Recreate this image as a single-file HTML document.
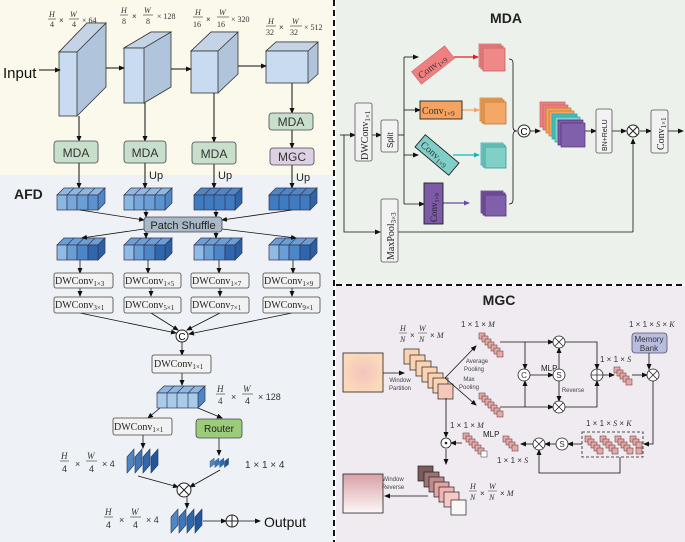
<!DOCTYPE html>
<html><head><meta charset="utf-8"><style>
html,body{margin:0;padding:0;background:#fff}
svg{display:block}
text{font-family:"Liberation Sans",sans-serif}
.s{font-family:"Liberation Serif",serif}
.i{font-family:"Liberation Serif",serif;font-style:italic}
</style></head><body>
<svg width="685" height="542" viewBox="0 0 685 542" xmlns="http://www.w3.org/2000/svg">
<defs>
<marker id="a" markerWidth="6" markerHeight="6" refX="5" refY="3" orient="auto" markerUnits="userSpaceOnUse"><path d="M0,0.5 L6,3 L0,5.5z" fill="#111"/></marker>
<marker id="ar" markerWidth="6" markerHeight="6" refX="5" refY="3" orient="auto" markerUnits="userSpaceOnUse"><path d="M0,0.5 L6,3 L0,5.5z" fill="#e02020"/></marker>
<marker id="ao" markerWidth="6" markerHeight="6" refX="5" refY="3" orient="auto" markerUnits="userSpaceOnUse"><path d="M0,0.5 L6,3 L0,5.5z" fill="#f4a460"/></marker>
<marker id="at" markerWidth="6" markerHeight="6" refX="5" refY="3" orient="auto" markerUnits="userSpaceOnUse"><path d="M0,0.5 L6,3 L0,5.5z" fill="#10b8b8"/></marker>
<marker id="ap" markerWidth="6" markerHeight="6" refX="5" refY="3" orient="auto" markerUnits="userSpaceOnUse"><path d="M0,0.5 L6,3 L0,5.5z" fill="#6a4aa8"/></marker>
<g id="stkA">
<path d="M0,7 L7,0 L48,0 L41,7z" fill="#8fb8e0" stroke="#335" stroke-width="0.7"/>
<path d="M41,7 L48,0 L48,15 L41,22z" fill="#4f86c4" stroke="#335" stroke-width="0.7"/>
<rect x="0" y="7" width="10" height="15" fill="#8ab6e2" stroke="#335" stroke-width="0.7"/>
<rect x="10" y="7" width="10" height="15" fill="#76a7da" stroke="#335" stroke-width="0.7"/>
<rect x="20" y="7" width="11" height="15" fill="#6a9fd6" stroke="#335" stroke-width="0.7"/>
<rect x="31" y="7" width="10" height="15" fill="#5b93cf" stroke="#335" stroke-width="0.7"/>
<path d="M10,7 L17,0 M20,7 L27,0 M31,7 L38,0" stroke="#335" stroke-width="0.7"/>
</g>
<g id="stkB">
<path d="M0,7 L7,0 L48,0 L41,7z" fill="#4f86c4" stroke="#335" stroke-width="0.7"/>
<path d="M41,7 L48,0 L48,15 L41,22z" fill="#2f65a8" stroke="#335" stroke-width="0.7"/>
<rect x="0" y="7" width="41" height="15" fill="#3f7bc0" stroke="#335" stroke-width="0.7"/>
<path d="M10,7 L10,22 M20,7 L20,22 M31,7 L31,22 M10,7 L17,0 M20,7 L27,0 M31,7 L38,0" stroke="#335" stroke-width="0.7"/>
</g>
<g id="stkC">
<path d="M0,7 L7,0 L48,0 L41,7z" fill="#6a9fd6" stroke="#335" stroke-width="0.7"/>
<path d="M41,7 L48,0 L48,15 L41,22z" fill="#2b5f9f" stroke="#335" stroke-width="0.7"/>
<rect x="0" y="7" width="10" height="15" fill="#8fbbe4" stroke="#335" stroke-width="0.7"/>
<rect x="10" y="7" width="10" height="15" fill="#6a9fd6" stroke="#335" stroke-width="0.7"/>
<rect x="20" y="7" width="11" height="15" fill="#4b86c8" stroke="#335" stroke-width="0.7"/>
<rect x="31" y="7" width="10" height="15" fill="#2f67ae" stroke="#335" stroke-width="0.7"/>
<path d="M10,7 L17,0 M20,7 L27,0 M31,7 L38,0" stroke="#335" stroke-width="0.7"/>
</g>
<g id="par">
<path d="M0,24 L0,8 L7,0 L7,16z" fill="#4f86c4" stroke="#235" stroke-width="0.6"/>
<path d="M8,24 L8,8 L15,0 L15,16z" fill="#3d77bb" stroke="#235" stroke-width="0.6"/>
<path d="M16,24 L16,8 L23,0 L23,16z" fill="#2f68ad" stroke="#235" stroke-width="0.6"/>
<path d="M24,24 L24,8 L31,0 L31,16z" fill="#1f58a0" stroke="#235" stroke-width="0.6"/>
</g>
<g id="pk"><rect width="6" height="6" fill="#e8a8a8" stroke="#533" stroke-width="0.5"/></g>
</defs>

<!-- backgrounds -->
<rect x="0" y="0" width="334" height="175" fill="#fbf8ec"/>
<rect x="0" y="175" width="334" height="367" fill="#eef2f6"/>
<rect x="336" y="0" width="349" height="284" fill="#edf1ec"/>
<rect x="336" y="286" width="349" height="256" fill="#efebf1"/>
<line x1="334" y1="0" x2="334" y2="542" stroke="#111" stroke-width="2" stroke-dasharray="6,4"/>
<line x1="336" y1="285" x2="685" y2="285" stroke="#111" stroke-width="2" stroke-dasharray="6,4"/>

<!-- encoder -->
<g stroke="#333" stroke-width="0.8">
<path d="M59,52 L87,23 L106,23 L106,87 L77,116z" fill="#b0c4dc"/><path d="M59,52 L87,23 L106,23 L77,52z" fill="#c4d4e6"/><rect x="59" y="52" width="18" height="64" fill="#c9dbf0"/>
<path d="M124,48 L151,32 L171,32 L171,87 L144,103z" fill="#b0c4dc"/><path d="M124,48 L151,32 L171,32 L144,48z" fill="#c4d4e6"/><rect x="124" y="48" width="20" height="55" fill="#c9dbf0"/>
<path d="M191,51 L211,32 L238,32 L238,74 L218,93z" fill="#b0c4dc"/><path d="M191,51 L211,32 L238,32 L218,51z" fill="#c4d4e6"/><rect x="191" y="51" width="27" height="42" fill="#c9dbf0"/>
<path d="M266,51 L276,42 L318,42 L318,74 L308,83z" fill="#b0c4dc"/><path d="M266,51 L276,42 L318,42 L308,51z" fill="#c4d4e6"/><rect x="266" y="51" width="42" height="32" fill="#c9dbf0"/>
</g>
<text x="3" y="78" font-size="15" fill="#111">Input</text>
<g stroke="#111" stroke-width="1" fill="none" marker-end="url(#a)">
<line x1="39" y1="70" x2="60" y2="70"/><line x1="106" y1="68" x2="124" y2="68"/><line x1="171" y1="69" x2="191" y2="69"/><line x1="238" y1="66" x2="266" y2="66"/>
<line x1="79" y1="116" x2="79" y2="141"/><line x1="145" y1="103" x2="145" y2="141"/><line x1="214" y1="93" x2="214" y2="142"/><line x1="292" y1="83" x2="292" y2="113"/><line x1="292" y1="130" x2="292" y2="148"/>
<line x1="79" y1="163" x2="79" y2="188"/><line x1="145" y1="163" x2="145" y2="188"/><line x1="214" y1="164" x2="214" y2="188"/><line x1="292" y1="165" x2="292" y2="188"/>
</g>
<g font-size="10" fill="#333">
<text x="49" y="17" class="i" font-size="8">H</text><line x1="48" y1="19" x2="56" y2="19" stroke="#333" stroke-width="0.6"/><text x="50" y="27" class="s" font-size="8">4</text><text x="59" y="23" font-size="8">×</text><text x="70" y="17" class="i" font-size="8">W</text><line x1="69" y1="19" x2="79" y2="19" stroke="#333" stroke-width="0.6"/><text x="72" y="27" class="s" font-size="8">4</text><text x="82" y="23" class="s" font-size="8">× 64</text>
<text x="121" y="13" class="i" font-size="8">H</text><line x1="120" y1="15" x2="128" y2="15" stroke="#333" stroke-width="0.6"/><text x="122" y="24" class="s" font-size="8">8</text><text x="132" y="19" font-size="8">×</text><text x="144" y="13" class="i" font-size="8">W</text><line x1="143" y1="15" x2="153" y2="15" stroke="#333" stroke-width="0.6"/><text x="146" y="24" class="s" font-size="8">8</text><text x="157" y="19" class="s" font-size="8">× 128</text>
<text x="195" y="15" class="i" font-size="8">H</text><line x1="193" y1="17" x2="203" y2="17" stroke="#333" stroke-width="0.6"/><text x="193" y="27" class="s" font-size="8">16</text><text x="206" y="22" font-size="8">×</text><text x="219" y="15" class="i" font-size="8">W</text><line x1="217" y1="17" x2="229" y2="17" stroke="#333" stroke-width="0.6"/><text x="217" y="27" class="s" font-size="8">16</text><text x="231" y="22" class="s" font-size="8">× 320</text>
<text x="268" y="24" class="i" font-size="8">H</text><line x1="266" y1="26" x2="276" y2="26" stroke="#333" stroke-width="0.6"/><text x="266" y="35" class="s" font-size="8">32</text><text x="279" y="30" font-size="8">×</text><text x="292" y="24" class="i" font-size="8">W</text><line x1="290" y1="26" x2="302" y2="26" stroke="#333" stroke-width="0.6"/><text x="290" y="35" class="s" font-size="8">32</text><text x="304" y="30" class="s" font-size="8">× 512</text>
</g>
<g stroke="#445" stroke-width="0.8">
<rect x="54" y="141" width="44" height="22" rx="3" fill="#c8dfcc"/>
<rect x="124" y="141" width="42" height="22" rx="3" fill="#c8dfcc"/>
<rect x="192" y="142" width="44" height="22" rx="3" fill="#c8dfcc"/>
<rect x="269" y="113" width="44" height="17" rx="3" fill="#c8dfcc"/>
<rect x="270" y="148" width="44" height="17" rx="3" fill="#ddd0e2"/>
</g>
<g font-size="12" fill="#333" text-anchor="middle">
<text x="76" y="157">MDA</text><text x="145" y="157">MDA</text><text x="214" y="158">MDA</text><text x="291" y="126">MDA</text><text x="292" y="161">MGC</text>
</g>
<g font-size="11" fill="#222"><text x="149" y="179">Up</text><text x="218" y="179">Up</text><text x="296" y="181">Up</text></g>
<text x="14" y="199" font-size="14" font-weight="bold" fill="#222">AFD</text>

<!-- stacks -->
<use href="#stkA" x="57" y="188"/><use href="#stkA" x="124" y="188"/><use href="#stkB" x="194" y="188"/><use href="#stkB" x="269" y="188"/>
<use href="#stkC" x="57" y="238"/><use href="#stkC" x="124" y="238"/><use href="#stkC" x="194" y="238"/><use href="#stkC" x="269" y="238"/>
<g stroke="#111" stroke-width="0.8" fill="none" marker-end="url(#a)">
<line x1="80" y1="210" x2="144" y2="220"/><line x1="146" y1="210" x2="146" y2="217"/><line x1="216" y1="210" x2="216" y2="217"/><line x1="292" y1="210" x2="222" y2="220"/>
<line x1="144" y1="229" x2="82" y2="238"/><line x1="146" y1="232" x2="146" y2="238"/><line x1="216" y1="232" x2="216" y2="238"/><line x1="222" y1="229" x2="296" y2="238"/>
<line x1="80" y1="260" x2="80" y2="273"/><line x1="148" y1="260" x2="148" y2="273"/><line x1="219" y1="260" x2="219" y2="273"/><line x1="293" y1="260" x2="293" y2="273"/>
<line x1="80" y1="288" x2="80" y2="296"/><line x1="151" y1="288" x2="151" y2="296"/><line x1="220" y1="288" x2="220" y2="296"/><line x1="292" y1="288" x2="292" y2="296"/>
<line x1="80" y1="313" x2="176" y2="333"/><line x1="151" y1="313" x2="178" y2="330"/><line x1="220" y1="313" x2="187" y2="330"/><line x1="292" y1="313" x2="189" y2="334"/>
<line x1="182" y1="342" x2="182" y2="355"/><line x1="182" y1="373" x2="182" y2="385"/>
<line x1="160" y1="408" x2="148" y2="418"/><line x1="198" y1="408" x2="222" y2="418"/>
<line x1="143" y1="435" x2="143" y2="448"/><line x1="219" y1="438" x2="219" y2="455"/>
<line x1="138" y1="476" x2="178" y2="487"/><line x1="220" y1="470" x2="190" y2="487"/>
<line x1="187" y1="496" x2="187" y2="508"/>
<line x1="203" y1="521" x2="226" y2="521"/><line x1="238" y1="521" x2="260" y2="521"/>
</g>
<rect x="144" y="217" width="78" height="15" rx="3" fill="#a9b8c6" stroke="#445" stroke-width="0.8"/>
<text x="183" y="229" font-size="11" fill="#222" text-anchor="middle">Patch Shuffle</text>
<g stroke="#444" stroke-width="0.8" fill="#f2f2f2">
<rect x="54" y="273" width="59" height="15" rx="2"/><rect x="124" y="273" width="57" height="15" rx="2"/><rect x="191" y="273" width="58" height="15" rx="2"/><rect x="263" y="273" width="57" height="15" rx="2"/>
<rect x="54" y="297" width="59" height="16" rx="2"/><rect x="124" y="297" width="57" height="16" rx="2"/><rect x="191" y="297" width="58" height="16" rx="2"/><rect x="263" y="297" width="57" height="16" rx="2"/>
<rect x="152" y="355" width="59" height="18" rx="2"/><rect x="113" y="418" width="59" height="17" rx="2"/>
</g>
<g class="s" font-size="10" fill="#222">
<text x="55" y="284" class="s">DWConv<tspan font-size="7" dy="2">1×3</tspan></text><text x="125" y="284" class="s">DWConv<tspan font-size="7" dy="2">1×5</tspan></text><text x="192" y="284" class="s">DWConv<tspan font-size="7" dy="2">1×7</tspan></text><text x="264" y="284" class="s">DWConv<tspan font-size="7" dy="2">1×9</tspan></text>
<text x="55" y="308" class="s">DWConv<tspan font-size="7" dy="2">3×1</tspan></text><text x="125" y="308" class="s">DWConv<tspan font-size="7" dy="2">5×1</tspan></text><text x="192" y="308" class="s">DWConv<tspan font-size="7" dy="2">7×1</tspan></text><text x="264" y="308" class="s">DWConv<tspan font-size="7" dy="2">9×1</tspan></text>
<text x="154" y="367" class="s">DWConv<tspan font-size="7" dy="2">1×1</tspan></text><text x="114" y="430" class="s">DWConv<tspan font-size="7" dy="2">1×1</tspan></text>
</g>
<circle cx="182" cy="336" r="6" fill="#fff" stroke="#222"/><text x="182" y="340" font-size="10" text-anchor="middle">C</text>
<g transform="translate(157,386)">
<path d="M0,7 L7,0 L48,0 L41,7z" fill="#8fb8e0" stroke="#335" stroke-width="0.7"/>
<path d="M41,7 L48,0 L48,15 L41,22z" fill="#4f86c4" stroke="#335" stroke-width="0.7"/>
<rect x="0" y="7" width="41" height="15" fill="#a8cbea" stroke="#335" stroke-width="0.7"/>
<path d="M10,7 L10,22 M20,7 L20,22 M31,7 L31,22 M10,7 L17,0 M20,7 L27,0 M31,7 L38,0" stroke="#335" stroke-width="0.7"/>
</g>
<g fill="#333" font-size="9" class="s">
<text x="217" y="392" class="i">H</text><line x1="216" y1="394" x2="225" y2="394" stroke="#333" stroke-width="0.6"/><text x="218" y="404" class="s">4</text><text x="231" y="400">×</text><text x="243" y="392" class="i">W</text><line x1="242" y1="394" x2="253" y2="394" stroke="#333" stroke-width="0.6"/><text x="245" y="404">4</text><text x="258" y="400">× 128</text>
<text x="61" y="459" class="i">H</text><line x1="60" y1="461" x2="69" y2="461" stroke="#333" stroke-width="0.6"/><text x="62" y="472">4</text><text x="75" y="467">×</text><text x="87" y="459" class="i">W</text><line x1="86" y1="461" x2="97" y2="461" stroke="#333" stroke-width="0.6"/><text x="89" y="472">4</text><text x="102" y="467">× 4</text>
<text x="245" y="468" font-size="10">1 × 1 × 4</text>
<text x="105" y="515" class="i">H</text><line x1="104" y1="517" x2="113" y2="517" stroke="#333" stroke-width="0.6"/><text x="106" y="528">4</text><text x="119" y="523">×</text><text x="131" y="515" class="i">W</text><line x1="130" y1="517" x2="141" y2="517" stroke="#333" stroke-width="0.6"/><text x="133" y="528">4</text><text x="146" y="523">× 4</text>
</g>
<rect x="196" y="419" width="46" height="19" rx="3" fill="#9ccc7a" stroke="#445" stroke-width="0.8"/>
<text x="219" y="432" font-size="10" fill="#222" text-anchor="middle">Router</text>
<use href="#par" x="127" y="449"/>
<use href="#par" x="171" y="509"/>
<g transform="translate(210,458) scale(0.6,0.4)"><use href="#par"/></g>
<circle cx="184" cy="490" r="7" fill="#fff" stroke="#222"/><path d="M179,485 L189,495 M189,485 L179,495" stroke="#222"/>
<circle cx="232" cy="521" r="6" fill="#fff" stroke="#222"/><path d="M226,521 L238,521 M232,515 L232,527" stroke="#222"/>
<text x="264" y="527" font-size="14" fill="#111">Output</text>

<!-- MDA -->
<text x="506" y="23" font-size="14" font-weight="bold" fill="#222" text-anchor="middle">MDA</text>
<g stroke="#111" stroke-width="0.8" fill="none">
<line x1="340" y1="135" x2="355" y2="135" marker-end="url(#a)"/>
<polyline points="344,135 344,232 380,232" marker-end="url(#a)"/>
<line x1="372" y1="135" x2="381" y2="135" marker-end="url(#a)"/>
<line x1="398" y1="135" x2="404" y2="135"/>
<line x1="404" y1="57" x2="404" y2="204"/>
<line x1="404" y1="57" x2="418" y2="57" marker-end="url(#a)"/>
<line x1="404" y1="110" x2="420" y2="110" marker-end="url(#a)"/>
<line x1="404" y1="155" x2="418" y2="155" marker-end="url(#a)"/>
<line x1="404" y1="204" x2="424" y2="204" marker-end="url(#a)"/>
<line x1="398" y1="232" x2="633" y2="232"/>
<line x1="633" y1="232" x2="633" y2="139" marker-end="url(#a)"/>
<path d="M509,59 Q513,59 513,63 L513,127 Q513,131 517,131 Q513,131 513,135 L513,200 Q513,204 509,204"/>
<line x1="530" y1="131" x2="540" y2="131" marker-end="url(#a)"/>
<line x1="584" y1="131" x2="596" y2="131" marker-end="url(#a)"/>
<line x1="612" y1="131" x2="626" y2="131" marker-end="url(#a)"/>
<line x1="640" y1="131" x2="651" y2="131" marker-end="url(#a)"/>
<line x1="668" y1="131" x2="683" y2="131" marker-end="url(#a)"/>
</g>
<line x1="454" y1="57" x2="478" y2="57" stroke="#e02020" stroke-width="1.2" marker-end="url(#ar)"/>
<line x1="462" y1="110" x2="479" y2="110" stroke="#f4a460" stroke-width="1.2" marker-end="url(#ao)"/>
<line x1="453" y1="155" x2="479" y2="155" stroke="#10b8b8" stroke-width="1.2" marker-end="url(#at)"/>
<line x1="443" y1="203" x2="469" y2="203" stroke="#6a4aa8" stroke-width="1.2" marker-end="url(#ap)"/>
<g stroke="#555" stroke-width="0.8" fill="#f2f2f2">
<rect x="355" y="103" width="17" height="58" rx="2"/><rect x="381" y="120" width="17" height="32" rx="2"/><rect x="381" y="199" width="17" height="63" rx="2"/>
<rect x="596" y="109" width="16" height="44" rx="2"/><rect x="651" y="110" width="17" height="43" rx="2"/>
</g>
<g fill="#222" font-size="10" class="s">
<text transform="translate(368,160) rotate(-90)" class="s">DWConv<tspan font-size="7" dy="2">1×1</tspan></text>
<text transform="translate(393,148) rotate(-90)" font-size="8">Split</text>
<text transform="translate(394,260) rotate(-90)" class="s">MaxPool<tspan font-size="7" dy="2">3×3</tspan></text>
<text transform="translate(607,151) rotate(-90)" font-size="7">BN+ReLU</text>
<text transform="translate(664,150) rotate(-90)" class="s">Conv<tspan font-size="7" dy="2">1×1</tspan></text>
</g>
<g transform="translate(433,65) rotate(-38)"><rect x="-21" y="-8" width="42" height="16" fill="#f08080" stroke="#c66" stroke-width="0.6"/><text x="-18" y="4" class="s" font-size="10" fill="#333">Conv<tspan font-size="7" dy="2">1×9</tspan></text></g>
<rect x="420" y="101" width="42" height="18" fill="#f4a460" stroke="#222" stroke-width="0.9"/><text x="422" y="114" class="s" font-size="10" fill="#333">Conv<tspan font-size="7" dy="2">1×9</tspan></text>
<g transform="translate(437,155) rotate(40)"><rect x="-22" y="-8" width="44" height="16" fill="#7fcfc8" stroke="#222" stroke-width="0.9"/><text x="-19" y="4" class="s" font-size="10" fill="#333">Conv<tspan font-size="7" dy="2">1×9</tspan></text></g>
<rect x="424" y="183" width="19" height="41" fill="#7c5aa6" stroke="#222" stroke-width="0.9"/><text transform="translate(437,222) rotate(-90)" class="s" font-size="9" fill="#222">Conv<tspan font-size="6" dy="2">1×9</tspan></text>
<g stroke-width="0.8">
<rect x="479" y="44" width="22" height="23" fill="#f08080" stroke="#c77"/><rect x="481" y="46" width="22" height="23" fill="#f08080" stroke="#b66"/><rect x="483" y="48" width="22" height="23" fill="#f08888" stroke="#b66"/>
<rect x="480" y="98" width="22" height="23" fill="#f4a460" stroke="#c84"/><rect x="482" y="100" width="22" height="23" fill="#f4a460" stroke="#b73"/><rect x="484" y="102" width="22" height="22" fill="#f4a868" stroke="#b73"/>
<rect x="481" y="143" width="22" height="22" fill="#7fcfc8" stroke="#4aa"/><rect x="483" y="145" width="22" height="22" fill="#7fcfc8" stroke="#399"/><rect x="485" y="147" width="21" height="21" fill="#80d0c8" stroke="#399"/>
<rect x="481" y="191" width="22" height="22" fill="#7c5aa6" stroke="#648"/><rect x="483" y="193" width="22" height="22" fill="#7c5aa6" stroke="#537"/><rect x="485" y="195" width="21" height="21" fill="#8060aa" stroke="#537"/>
</g>
<circle cx="524" cy="131" r="6" fill="#fff" stroke="#222"/><text x="524" y="135" font-size="10" text-anchor="middle">C</text>
<g stroke-width="0.7">
<rect x="540" y="102" width="25" height="25" fill="#f08080" stroke="#b66"/><rect x="543" y="105" width="25" height="25" fill="#f08080" stroke="#b66"/>
<rect x="546" y="108" width="25" height="25" fill="#f4a460" stroke="#b73"/><rect x="549" y="111" width="25" height="25" fill="#f4a460" stroke="#b73"/>
<rect x="552" y="114" width="25" height="25" fill="#40c0c0" stroke="#399"/><rect x="555" y="117" width="25" height="25" fill="#7fcfc8" stroke="#399"/>
<rect x="558" y="120" width="25" height="25" fill="#7c5aa6" stroke="#537"/><rect x="561" y="123" width="24" height="24" fill="#8060aa" stroke="#537"/>
</g>
<circle cx="633" cy="131" r="6" fill="#fff" stroke="#222"/><path d="M629,127 L637,135 M637,127 L629,135" stroke="#222"/>

<!-- MGC -->
<text x="499" y="305" font-size="14" font-weight="bold" fill="#222" text-anchor="middle">MGC</text>
<defs><radialGradient id="g1"><stop offset="0" stop-color="#f2c4c0"/><stop offset="1" stop-color="#fbd9b9"/></radialGradient>
<linearGradient id="g2" x1="0" y1="0" x2="0" y2="1"><stop offset="0" stop-color="#d8a0a4"/><stop offset="1" stop-color="#fdf8f8"/></linearGradient></defs>
<rect x="343" y="353" width="40" height="39" fill="url(#g1)" stroke="#222" stroke-width="0.8"/>
<rect x="343" y="474" width="40" height="39" fill="url(#g2)" stroke="#222" stroke-width="0.8"/>
<g font-size="6" fill="#444" text-anchor="middle">
<text x="400" y="382">Window</text><text x="400" y="390">Partition</text>
<text x="477" y="363">Average</text><text x="474" y="371">Pooling</text>
<text x="469" y="381">Max</text><text x="469" y="389">Pooling</text>
<text x="573" y="392">Reverse</text>
<text x="393" y="481">Window</text><text x="393" y="489">Reverse</text>
</g>
<g stroke="#222" stroke-width="0.7">
<rect x="404" y="349" width="15" height="15" fill="#fbd2b2"/><rect x="410" y="355" width="15" height="15" fill="#fbd2b2"/><rect x="416" y="361" width="15" height="15" fill="#fbd2b2"/><rect x="422" y="367" width="15" height="15" fill="#fbd2b2"/><rect x="428" y="373" width="15" height="15" fill="#fbd2b2"/><rect x="433" y="378" width="15" height="15" fill="#fbd2b2"/><rect x="438" y="384" width="15" height="15" fill="#f6c8bc"/>
<rect x="418" y="466" width="15" height="15" fill="#7a5a5a"/><rect x="424" y="472" width="15" height="15" fill="#9c7474"/><rect x="429" y="477" width="15" height="15" fill="#c08a8a"/><rect x="434" y="482" width="15" height="15" fill="#e2a4a4"/><rect x="439" y="487" width="15" height="15" fill="#f0b4b4"/><rect x="444" y="492" width="15" height="15" fill="#f8c8c8"/><rect x="451" y="500" width="15" height="15" fill="#f8f8f8"/>
</g>
<g>
<use href="#pk" x="479" y="333"/><use href="#pk" x="482" y="336"/><use href="#pk" x="485" y="339"/><use href="#pk" x="488" y="342"/><use href="#pk" x="491" y="345"/><use href="#pk" x="494" y="348"/><use href="#pk" x="497" y="351"/>
<use href="#pk" x="479" y="393"/><use href="#pk" x="482" y="396"/><use href="#pk" x="485" y="399"/><use href="#pk" x="488" y="402"/><use href="#pk" x="491" y="405"/><use href="#pk" x="494" y="408"/><use href="#pk" x="497" y="411"/>
<use href="#pk" x="614" y="367"/><use href="#pk" x="617" y="370"/><use href="#pk" x="620" y="373"/><use href="#pk" x="623" y="376"/><use href="#pk" x="626" y="379"/>
<use href="#pk" x="503" y="436"/><use href="#pk" x="506" y="439"/><use href="#pk" x="509" y="442"/><use href="#pk" x="512" y="445"/>
<use href="#pk" x="463" y="433"/><use href="#pk" x="466" y="436"/><use href="#pk" x="469" y="439"/><use href="#pk" x="472" y="442"/><use href="#pk" x="475" y="445"/><use href="#pk" x="478" y="448"/>
<rect x="481" y="451" width="6" height="6" fill="#fff" stroke="#333" stroke-width="0.5"/>
<use href="#pk" x="585" y="436"/><use href="#pk" x="588" y="439"/><use href="#pk" x="591" y="442"/><use href="#pk" x="594" y="445"/><use href="#pk" x="597" y="448"/>
<use href="#pk" x="600" y="436"/><use href="#pk" x="603" y="439"/><use href="#pk" x="606" y="442"/><use href="#pk" x="609" y="445"/><use href="#pk" x="612" y="448"/>
<use href="#pk" x="615" y="436"/><use href="#pk" x="618" y="439"/><use href="#pk" x="621" y="442"/><use href="#pk" x="624" y="445"/><use href="#pk" x="627" y="448"/>
<use href="#pk" x="630" y="436"/><use href="#pk" x="633" y="439"/><use href="#pk" x="636" y="442"/><use href="#pk" x="636" y="448"/>
</g>
<rect x="582" y="432" width="61" height="25" fill="none" stroke="#222" stroke-width="0.8" stroke-dasharray="3,2"/>
<rect x="632" y="333" width="35" height="20" rx="3" fill="#b8bde0" stroke="#556" stroke-width="0.8"/>
<text x="649" y="342" font-size="8" fill="#333" text-anchor="middle">Memory</text><text x="649" y="351" font-size="8" fill="#333" text-anchor="middle">Bank</text>
<g stroke="#111" stroke-width="0.8" fill="none">
<line x1="383" y1="373" x2="404" y2="373" marker-end="url(#a)"/>
<line x1="445" y1="378" x2="476" y2="346" marker-end="url(#a)"/>
<line x1="445" y1="378" x2="476" y2="405" marker-end="url(#a)"/>
<line x1="500" y1="342" x2="553" y2="342" marker-end="url(#a)"/>
<line x1="500" y1="407" x2="553" y2="407" marker-end="url(#a)"/>
<line x1="525" y1="342" x2="525" y2="369" marker-end="url(#a)"/>
<line x1="525" y1="407" x2="525" y2="381" marker-end="url(#a)"/>
<line x1="530" y1="375" x2="553" y2="375" marker-end="url(#a)"/>
<line x1="559" y1="369" x2="559" y2="348" marker-end="url(#a)"/>
<line x1="559" y1="381" x2="559" y2="401" marker-end="url(#a)"/>
<polyline points="565,342 597,342 597,369" marker-end="url(#a)"/>
<polyline points="565,407 597,407 597,381" marker-end="url(#a)"/>
<line x1="603" y1="375" x2="614" y2="375" marker-end="url(#a)"/>
<line x1="632" y1="375" x2="647" y2="375" marker-end="url(#a)"/>
<line x1="649" y1="353" x2="649" y2="369" marker-end="url(#a)"/>
<polyline points="653,381 653,444 644,444" marker-end="url(#a)"/>
<line x1="582" y1="444" x2="568" y2="444" marker-end="url(#a)"/>
<line x1="556" y1="444" x2="545" y2="444" marker-end="url(#a)"/>
<polyline points="620,457 620,473 539,473 539,450" marker-end="url(#a)"/>
<line x1="533" y1="444" x2="521" y2="444" marker-end="url(#a)"/>
<line x1="462" y1="443" x2="451" y2="443" marker-end="url(#a)"/>
<line x1="446" y1="398" x2="446" y2="437" marker-end="url(#a)"/>
<line x1="446" y1="449" x2="446" y2="464" marker-end="url(#a)"/>
<line x1="428" y1="496" x2="385" y2="496" marker-end="url(#a)"/>
</g>
<g fill="#fff" stroke="#222" stroke-width="0.8">
<circle cx="559" cy="342" r="6"/><circle cx="559" cy="407" r="6"/><circle cx="524" cy="375" r="6"/><circle cx="559" cy="375" r="6"/><circle cx="597" cy="375" r="6"/><circle cx="653" cy="375" r="6"/><circle cx="562" cy="444" r="6"/><circle cx="539" cy="444" r="6"/><circle cx="446" cy="443" r="5"/>
</g>
<path d="M555,338 L563,346 M563,338 L555,346 M555,403 L563,411 M563,403 L555,411 M649,371 L657,379 M657,371 L649,379 M535,440 L543,448 M543,440 L535,448 M591,375 L603,375 M597,369 L597,381" stroke="#222" stroke-width="0.8"/>
<circle cx="446" cy="443" r="1.3" fill="#222"/>
<g font-size="8" fill="#333" text-anchor="middle"><text x="524" y="378">C</text><text x="559" y="378">S</text><text x="562" y="447">S</text></g>
<g font-size="8" fill="#222"><text x="541" y="371">MLP</text><text x="483" y="437">MLP</text></g>
<g class="s" font-size="8" fill="#333">
<text x="461" y="327">1 × 1 × <tspan class="i">M</tspan></text>
<text x="629" y="327">1 × 1 × <tspan class="i">S</tspan> × <tspan class="i">K</tspan></text>
<text x="600" y="362">1 × 1 × <tspan class="i">S</tspan></text>
<text x="586" y="426">1 × 1 × <tspan class="i">S</tspan> × <tspan class="i">K</tspan></text>
<text x="450" y="428">1 × 1 × <tspan class="i">M</tspan></text>
<text x="497" y="463">1 × 1 × <tspan class="i">S</tspan></text>
<text x="400" y="331" class="i">H</text><line x1="399" y1="333" x2="407" y2="333" stroke="#333" stroke-width="0.5"/><text x="400" y="342" class="i">N</text><text x="410" y="338">×</text><text x="419" y="331" class="i">W</text><line x1="418" y1="333" x2="427" y2="333" stroke="#333" stroke-width="0.5"/><text x="419" y="342" class="i">N</text><text x="430" y="338">× <tspan class="i">M</tspan></text>
<text x="470" y="489" class="i">H</text><line x1="469" y1="491" x2="477" y2="491" stroke="#333" stroke-width="0.5"/><text x="470" y="500" class="i">N</text><text x="480" y="496">×</text><text x="489" y="489" class="i">W</text><line x1="488" y1="491" x2="497" y2="491" stroke="#333" stroke-width="0.5"/><text x="489" y="500" class="i">N</text><text x="500" y="496">× <tspan class="i">M</tspan></text>
</g>
</svg>
</body></html>
